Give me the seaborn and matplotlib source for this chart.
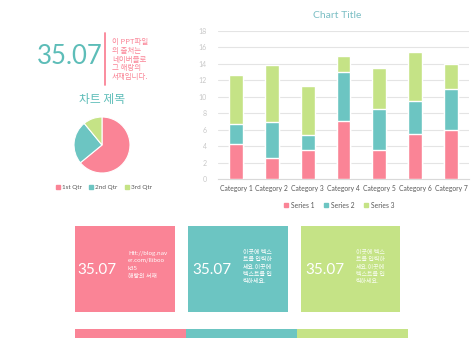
import matplotlib
matplotlib.use("Agg")
import matplotlib.pyplot as plt
from matplotlib.patches import Rectangle
from matplotlib.lines import Line2D
import seaborn as sns
import pandas as pd
import numpy as np

sns.set_theme(style="white")
plt.rcParams['font.family'] = ['Lato', 'Noto Sans CJK KR', 'DejaVu Sans']

# ---------------- data ----------------
categories = ["Category 1", "Category 2", "Category 3", "Category 4",
              "Category 5", "Category 6", "Category 7"]
series1 = [4.3, 2.5, 3.5, 7.0, 3.5, 5.5, 6.0]
series2 = [2.4, 4.4, 1.8, 6.0, 5.0, 4.0, 5.0]
series3 = [6.0, 7.0, 6.0, 2.0, 5.0, 6.0, 3.0]
series_names = ["Series 1", "Series 2", "Series 3"]
y_ticks = [0, 2, 4, 6, 8, 10, 12, 14, 16, 18]

pie_labels = ["1st Qtr", "2nd Qtr", "3rd Qtr"]
pie_values = [8.2, 3.2, 1.4]

big_value = "35.07"
side_lines = ["이 PPT파일", "의 출처는", "네이버블로", "그 해랑의", "서재입니다."]
pie_title = "차트 제목"
bar_title = "Chart Title"
box1_lines = ["Htt://blog.nav", "er.com/lliboo", "k35", "해랑의 서재"]
box_lines = ["이곳에 텍스", "트를 입력하", "세요.이곳에", "텍스트를 입", "력하세요."]

PINK = "#FA8496"
TEAL = "#6CC5C2"
GREEN = "#C5E386"
colors = [PINK, TEAL, GREEN]

W, H = 474, 349
fig = plt.figure(figsize=(W / 100, H / 100), dpi=100)
fig.patch.set_facecolor("white")


def fx(px):
    return px / W


def fy(py):
    return 1 - py / H


# ---------------- big number + side text ----------------
fig.text(fx(70), fy(57), big_value, fontsize=18.5, color="#5DBDB8",
         ha="center", va="center", family=['Lato', 'DejaVu Sans'])
fig.add_artist(Line2D([fx(105), fx(105)], [fy(33), fy(85)], color=PINK, lw=1.3))
for i, line in enumerate(side_lines):
    fig.text(fx(112), fy(42 + i * 8.8), line, fontsize=5.4, color=PINK,
             ha="left", va="center", family=['Noto Sans CJK KR', 'DejaVu Sans'])

# ---------------- pie ----------------
fig.text(fx(102), fy(99), pie_title, fontsize=8.5, color="#5DBDB8",
         ha="center", va="center", family=['Noto Sans CJK KR', 'DejaVu Sans'])
axp = fig.add_axes([fx(102 - 30), fy(145 + 30), 60 / W, 60 / H])
axp.pie(pie_values, colors=colors, startangle=90, counterclock=False,
        radius=28 / 30, wedgeprops=dict(edgecolor="white", linewidth=0.8))
axp.set_xlim(-1, 1)
axp.set_ylim(-1, 1)
axp.set_aspect("equal")
axp.axis("off")
pie_handles = [Line2D([], [], marker="s", ls="", color=c, markersize=2.2) for c in colors]
fig.legend(pie_handles, pie_labels, loc="center", bbox_to_anchor=(fx(103), fy(187)),
           ncol=3, frameon=False, fontsize=4.6, handletextpad=0.0, columnspacing=0.9,
           handlelength=1.2, labelcolor="#595959")

# ---------------- stacked bar chart ----------------
df = pd.DataFrame({"category": categories, "s1": series1, "s2": series2, "s3": series3})
df["c2"] = df["s1"] + df["s2"]
df["c3"] = df["c2"] + df["s3"]

axb = fig.add_axes([fx(218), fy(179), (469 - 218) / W, (179 - 31) / H])
for col, c in zip(["c3", "c2", "s1"], [GREEN, TEAL, PINK]):
    sns.barplot(data=df, x="category", y=col, color=c, width=0.39,
                saturation=1, ax=axb, zorder=3)
axb.set_ylim(0, 18)
axb.set_xlim(-0.5, 6.5)
axb.set_yticks(y_ticks)
axb.set_yticklabels([str(t) for t in y_ticks])
axb.yaxis.grid(True, color="#E4E4E4", lw=0.8, zorder=0)
axb.set_axisbelow(True)
for s in ["top", "right", "left"]:
    axb.spines[s].set_visible(False)
axb.spines["bottom"].set_color("#D9D9D9")
axb.spines["bottom"].set_linewidth(0.8)
axb.tick_params(axis="y", labelsize=5, colors="#BFBFBF", length=0, pad=8)
axb.tick_params(axis="x", labelsize=4.9, colors="#595959", length=0, pad=4)
for lab in axb.get_yticklabels():
    lab.set_color("#C8C8C8")
axb.set_xlabel("")
axb.set_ylabel("")
fig.text(fx(337), fy(16), bar_title, fontsize=7.5, color="#7BBEC4",
         ha="center", va="center")
bar_handles = [Line2D([], [], marker="s", ls="", color=c, markersize=2.8) for c in colors]
fig.legend(bar_handles, series_names, loc="center", bbox_to_anchor=(fx(338), fy(205)),
           ncol=3, frameon=False, fontsize=4.9, handletextpad=0.0, columnspacing=1.0,
           handlelength=1.4, labelcolor="#595959")

# ---------------- boxes ----------------
boxes = [(75, 175, PINK), (188, 288, TEAL), (301, 400, GREEN)]
for x0, x1, c in boxes:
    fig.add_artist(Rectangle((fx(x0), fy(312)), (x1 - x0) / W, (312 - 226) / H,
                             transform=fig.transFigure, color=c, lw=0))

num_x = [97, 212, 325]
for nx in num_x:
    fig.text(fx(nx), fy(269.5), big_value, fontsize=11, color="white",
             ha="center", va="center", family=['Lato', 'DejaVu Sans'])

for j, line in enumerate(box1_lines):
    fig.text(fx(128), fy(253 + j * 7.8), line, fontsize=4.3, color="white",
             ha="left", va="center", family=['Noto Sans CJK KR', 'DejaVu Sans'])
for bx, c in [(243, "white"), (356, "#F7FCEE")]:
    for j, line in enumerate(box_lines):
        fig.text(fx(bx), fy(252 + j * 7.4), line, fontsize=4.3, color=c,
                 ha="left", va="center", family=['Noto Sans CJK KR', 'DejaVu Sans'])

# ---------------- bottom band ----------------
bands = [(75, 186, PINK), (186, 297, TEAL), (297, 408, GREEN)]
for x0, x1, c in bands:
    fig.add_artist(Rectangle((fx(x0), fy(338)), (x1 - x0) / W, 9 / H,
                             transform=fig.transFigure, color=c, lw=0))

fig.savefig("out.png", dpi=100, facecolor="white")
